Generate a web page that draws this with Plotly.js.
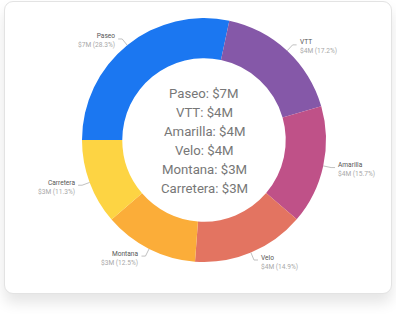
<!DOCTYPE html>
<html>
<head>
<meta charset="utf-8">
<script src="https://cdn.plot.ly/plotly-3.0.1.min.js"></script>
<style>
  html, body { margin:0; padding:0; background:#ffffff; width:396px; height:314px; overflow:hidden; }
  #card { position:absolute; left:4px; top:1px; width:386px; height:291px; border:1px solid #e3e3e3; border-radius:9px; background:#fff;
          box-shadow: 0 9px 14px rgba(0,0,0,0.10); }
  #chart { position:absolute; left:0; top:0; width:396px; height:314px; }
</style>
</head>
<body>
<div id="card"></div>
<div id="chart"></div>
<script>
// ---- data ----
const categories = ["Paseo", "VTT", "Amarilla", "Velo", "Montana", "Carretera"];
const sales = [7.0, 4.254, 3.883, 3.686, 3.092, 2.795];   // $ millions
const colors = ["#1b77f1", "#8558a8", "#bf5188", "#e37461", "#fbad39", "#fdd443"];

// ---- layout constants ----
const W = 396, H = 314;
const CX = 204, CY = 140, R = 122;
const HOLE = 0.67;
const ROT = -90;
const total = sales.reduce((a, b) => a + b, 0);

const pct = sales.map(v => (100 * v / total).toFixed(1) + "%");
const money = sales.map(v => "$" + Math.round(v) + "M");

const trace = {
  type: "pie",
  labels: categories,
  values: sales,
  sort: false,
  direction: "clockwise",
  rotation: ROT,
  hole: HOLE,
  textinfo: "none",
  hoverinfo: "label+value+percent",
  marker: { colors: colors, line: { width: 0 } },
  domain: { x: [(CX - R) / W, (CX + R) / W], y: [(H - CY - R) / H, (H - CY + R) / H] },
  showlegend: false
};

const px = x => x / W;
const py = y => 1 - y / H;

const shapes = [];
const annotations = [];
let cum = 0;
sales.forEach((v, i) => {
  const mid = (cum + v / 2) / total;
  cum += v;
  const th = (ROT + 360 * mid) * Math.PI / 180;
  const sx = Math.sin(th), sy = -Math.cos(th);
  const p0 = [CX + R * sx, CY + R * sy];
  const p1 = [CX + (R + 8) * sx, CY + (R + 8) * sy];
  const right = sx >= 0;
  const p2 = [p1[0] + (right ? 4 : -4), p1[1]];
  shapes.push({
    type: "path", xref: "paper", yref: "paper",
    path: `M ${px(p0[0])} ${py(p0[1])} L ${px(p1[0])} ${py(p1[1])} L ${px(p2[0])} ${py(p2[1])}`,
    line: { color: "#b0b0b0", width: 0.8 }
  });
  annotations.push({
    xref: "paper", yref: "paper",
    x: px(p2[0] + (right ? 1 : -1)), y: py(p2[1] + 2),
    xanchor: right ? "left" : "right", yanchor: "middle",
    align: right ? "left" : "right",
    showarrow: false,
    text: categories[i] + "<br><span style='color:#a8a8a8'>" + money[i] + " (" + pct[i] + ")</span>",
    font: { family: "Roboto, sans-serif", size: 6.6, color: "#555555" }
  });
});

// center summary lines
const lineGap = 18.8;
const n = categories.length;
categories.forEach((c, i) => {
  const y = CY + (i - (n - 1) / 2) * lineGap + 1;
  annotations.push({
    xref: "paper", yref: "paper", x: px(CX), y: py(y),
    xanchor: "center", yanchor: "middle", showarrow: false,
    text: c + ": " + money[i],
    font: { family: "Roboto, sans-serif", size: 13.2, color: "#777777" }
  });
});

const layout = {
  width: W, height: H,
  margin: { l: 0, r: 0, t: 0, b: 0 },
  paper_bgcolor: "rgba(0,0,0,0)",
  plot_bgcolor: "rgba(0,0,0,0)",
  shapes: shapes,
  annotations: annotations
};

Plotly.newPlot("chart", [trace], layout, { displayModeBar: false, staticPlot: true });
</script>
</body>
</html>
